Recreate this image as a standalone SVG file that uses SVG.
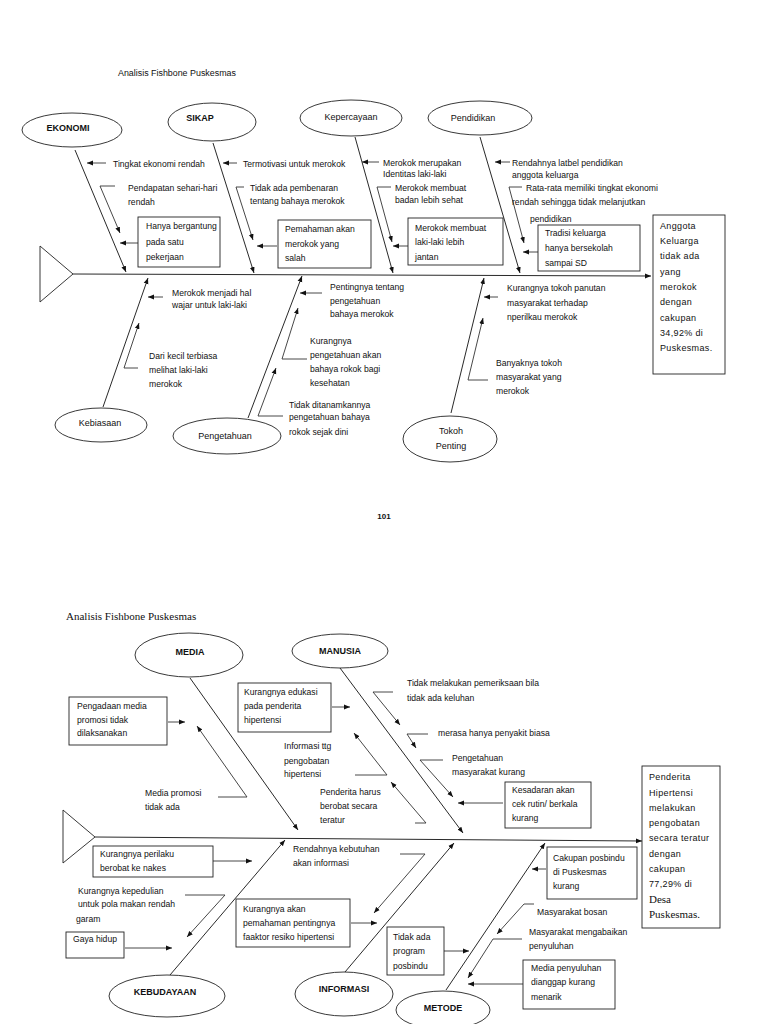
<svg xmlns="http://www.w3.org/2000/svg" width="768" height="1024" viewBox="0 0 768 1024">
<style>
text{font-family:"Liberation Sans",Arial,sans-serif;font-size:8.6px;fill:#111}
.cat{font-weight:bold;font-size:9px;text-anchor:middle}
.lbl{font-size:9px;text-anchor:middle}
.eff{font-size:9px;letter-spacing:0.35px}
.ser{font-family:"Liberation Serif","Times New Roman",serif}
.ell,.box{fill:#fff;stroke:#222;stroke-width:0.9}
.bone{fill:none;stroke:#111;stroke-width:0.9;marker-end:url(#ah)}
.sub{fill:none;stroke:#333;stroke-width:0.9;marker-end:url(#ah)}
.head{fill:#fff;stroke:#222;stroke-width:0.9}
</style>
<defs>
<marker id="ah" viewBox="0 0 10 10" refX="10" refY="5" markerWidth="6" markerHeight="6" markerUnits="userSpaceOnUse" orient="auto">
<path d="M0,1 L10,5 L0,9 z" fill="#111"/>
</marker>
</defs>
<rect width="768" height="1024" fill="#fff"/>

<!-- ===== TOP DIAGRAM ===== -->
<text x="118" y="76" style="font-size:8.9px">Analisis Fishbone Puskesmas</text>

<g id="connectors-top">
<polygon class="head" points="40,246 73,274 40,302"/>
<path class="bone" d="M73,274 L651,276"/>
<path class="bone" d="M75,150 L126,272"/>
<path class="bone" d="M213,143 L254,273"/>
<path class="bone" d="M355,137 L393,273"/>
<path class="bone" d="M480,137 L520,273"/>
<path class="bone" d="M103,407 L148,278"/>
<path class="bone" d="M248,418 L302,276"/>
<path class="bone" d="M451,413 L484,278"/>
<path class="sub" d="M106,163 L87,163"/>
<path class="sub" d="M115,186 L100,186 L120,233"/>
<path class="sub" d="M138,243 L120,243"/>
<path class="sub" d="M237,163 L223,163"/>
<path class="sub" d="M244,187 L236,187 L253,240"/>
<path class="sub" d="M277,246 L257,246"/>
<path class="sub" d="M379,162 L362,162"/>
<path class="sub" d="M391,187 L377,187 L392,242"/>
<path class="sub" d="M408,246 L393,246"/>
<path class="sub" d="M510,162 L495,162"/>
<path class="sub" d="M522,187 L509,187 L524,243"/>
<path class="sub" d="M538,252 L523,252"/>
<path class="sub" d="M163,297 L148,297"/>
<path class="sub" d="M138,368 L124,368 L139,323"/>
<path class="sub" d="M322,293 L300,293"/>
<path class="sub" d="M307,359 L282,359 L298,308"/>
<path class="sub" d="M283,416 L258,416 L276,368"/>
<path class="sub" d="M498,297 L484,297"/>
<path class="sub" d="M488,380 L468,380 L483,318"/>
</g>

<g id="ekonomi">
<ellipse class="ell" cx="72" cy="130" rx="50" ry="17"/>
<text class="cat" x="68" y="131">EKONOMI</text>
<text x="113" y="167">Tingkat ekonomi rendah</text>
<text x="128" y="191">Pendapatan sehari-hari</text>
<text x="128" y="205">rendah</text>
<rect class="box" x="138" y="217" width="82" height="50"/>
<text x="146" y="229">Hanya bergantung</text>
<text x="146" y="245">pada satu</text>
<text x="146" y="260">pekerjaan</text>
</g>

<g id="sikap">
<ellipse class="ell" cx="212" cy="122" rx="44" ry="19"/>
<text class="cat" x="200" y="121">SIKAP</text>
<text x="243" y="167">Termotivasi untuk merokok</text>
<text x="250" y="191">Tidak ada pembenaran</text>
<text x="250" y="204">tentang bahaya merokok</text>
<rect class="box" x="278" y="220" width="93" height="48"/>
<text x="285" y="232">Pemahaman akan</text>
<text x="285" y="247">merokok yang</text>
<text x="285" y="261">salah</text>
</g>

<g id="kepercayaan">
<ellipse class="ell" cx="351" cy="118" rx="51" ry="18"/>
<text class="lbl" x="351" y="120">Kepercayaan</text>
<text x="383" y="166">Merokok merupakan</text>
<text x="383" y="177">Identitas laki-laki</text>
<text x="395" y="191">Merokok membuat</text>
<text x="395" y="203">badan lebih sehat</text>
<rect class="box" x="408" y="218" width="95" height="47"/>
<text x="415" y="231">Merokok membuat</text>
<text x="415" y="245">laki-laki lebih</text>
<text x="415" y="260">jantan</text>
</g>

<g id="pendidikan">
<ellipse class="ell" cx="480" cy="118" rx="52" ry="17"/>
<text class="lbl" x="473" y="121">Pendidikan</text>
<text x="512" y="166">Rendahnya latbel pendidikan</text>
<text x="512" y="178">anggota keluarga</text>
<text x="526" y="191">Rata-rata memiliki tingkat ekonomi</text>
<text x="512" y="205">rendah sehingga tidak melanjutkan</text>
<text x="530" y="222">pendidikan</text>
<rect class="box" x="538" y="225" width="102" height="46"/>
<text x="545" y="236">Tradisi keluarga</text>
<text x="545" y="251">hanya  bersekolah</text>
<text x="545" y="266">sampai SD</text>
</g>

<g id="kebiasaan">
<ellipse class="ell" cx="101" cy="425" rx="46" ry="17"/>
<text class="lbl" x="100" y="426">Kebiasaan</text>
<text x="172" y="296">Merokok menjadi hal</text>
<text x="172" y="308">wajar untuk laki-laki</text>
<text x="149" y="359">Dari kecil terbiasa</text>
<text x="149" y="373">melihat laki-laki</text>
<text x="149" y="387">merokok</text>
</g>

<g id="pengetahuan">
<ellipse class="ell" cx="227" cy="436" rx="54" ry="18"/>
<text class="lbl" x="225" y="439">Pengetahuan</text>
<text x="330" y="290">Pentingnya tentang</text>
<text x="330" y="304">pengetahuan</text>
<text x="330" y="317">bahaya merokok</text>
<text x="310" y="344">Kurangnya</text>
<text x="310" y="358">pengetahuan akan</text>
<text x="310" y="372">bahaya rokok bagi</text>
<text x="310" y="386">kesehatan</text>
<text x="289" y="408">Tidak ditanamkannya</text>
<text x="289" y="420">pengetahuan bahaya</text>
<text x="289" y="435">rokok sejak dini</text>
</g>

<g id="tokoh-penting">
<ellipse class="ell" cx="450" cy="439" rx="47" ry="23"/>
<text class="lbl" x="451" y="434">Tokoh</text>
<text class="lbl" x="451" y="449">Penting</text>
<text x="507" y="291">Kurangnya tokoh panutan</text>
<text x="507" y="306">masyarakat terhadap</text>
<text x="507" y="320">nperilkau merokok</text>
<text x="496" y="366">Banyaknya tokoh</text>
<text x="496" y="380">masyarakat yang</text>
<text x="496" y="394">merokok</text>
</g>

<g id="effect-top">
<rect class="box" x="653" y="215" width="72" height="159"/>
<text class="eff" x="660" y="229">Anggota</text>
<text class="eff" x="660" y="244">Keluarga</text>
<text class="eff" x="660" y="259">tidak ada</text>
<text class="eff" x="660" y="275">yang</text>
<text class="eff" x="660" y="290">merokok</text>
<text class="eff" x="660" y="305">dengan</text>
<text class="eff" x="660" y="321">cakupan</text>
<text class="eff" x="660" y="336">34,92% di</text>
<text class="eff" x="660" y="351">Puskesmas.</text>
</g>

<text x="384" y="519" text-anchor="middle" style="font-size:8px;font-weight:bold">101</text>

<!-- ===== BOTTOM DIAGRAM ===== -->
<text class="ser" x="66" y="620" style="font-size:11px">Analisis Fishbone Puskesmas</text>

<g id="connectors-bottom">
<polygon class="head" points="63,810 95,837 63,863"/>
<path class="bone" d="M95,837 L642,841"/>
<path class="bone" d="M190,678 L298,830"/>
<path class="bone" d="M340,668 L463,833"/>
<path class="bone" d="M170,975 L285,840"/>
<path class="bone" d="M345,972 L454,843"/>
<path class="bone" d="M446,990 L545,843"/>
<path class="sub" d="M168,722 L185,722"/>
<path class="sub" d="M218,797 L247,797 L197,726"/>
<path class="sub" d="M332,707 L350,707"/>
<path class="sub" d="M355,775 L387,775 L354,733"/>
<path class="sub" d="M415,823 L426,823 L391,782"/>
<path class="sub" d="M393,692 L373,692 L400,725"/>
<path class="sub" d="M428,734 L407,734 L416,748"/>
<path class="sub" d="M443,760 L420,760 L453,797"/>
<path class="sub" d="M503,803 L458,803"/>
<path class="sub" d="M213,861 L252,861"/>
<path class="sub" d="M185,895 L225,895 L187,937"/>
<path class="sub" d="M125,948 L172,948"/>
<path class="sub" d="M400,854 L425,854 L374,913"/>
<path class="sub" d="M351,923 L377,923"/>
<path class="sub" d="M444,951 L469,951"/>
<path class="sub" d="M546,869 L532,869"/>
<path class="sub" d="M534,904 L524,904 L497,934"/>
<path class="sub" d="M522,939 L493,939 L468,978"/>
<path class="sub" d="M523,984 L468,984"/>
</g>

<g id="media">
<ellipse class="ell" cx="189" cy="655" rx="54" ry="22"/>
<text class="cat" x="190" y="655">MEDIA</text>
<rect class="box" x="69" y="697" width="98" height="48"/>
<text x="77" y="709">Pengadaan media</text>
<text x="77" y="723">promosi tidak</text>
<text x="77" y="736">dilaksanakan</text>
<text x="145" y="796">Media promosi</text>
<text x="145" y="810">tidak ada</text>
</g>

<g id="manusia">
<ellipse class="ell" cx="340" cy="651" rx="48" ry="17"/>
<text class="cat" x="340" y="654">MANUSIA</text>
<rect class="box" x="238" y="683" width="93" height="49"/>
<text x="244" y="695">Kurangnya edukasi</text>
<text x="244" y="709">pada penderita</text>
<text x="244" y="723">hipertensi</text>
<text x="284" y="749">Informasi ttg</text>
<text x="284" y="764">pengobatan</text>
<text x="284" y="777">hipertensi</text>
<text x="320" y="795">Penderita harus</text>
<text x="320" y="809">berobat secara</text>
<text x="320" y="823">teratur</text>
<text x="407" y="686">Tidak melakukan pemeriksaan bila</text>
<text x="407" y="701">tidak ada keluhan</text>
<text x="438" y="736">merasa hanya penyakit biasa</text>
<text x="452" y="761">Pengetahuan</text>
<text x="452" y="775">masyarakat  kurang</text>
<rect class="box" x="505" y="782" width="86" height="46"/>
<text x="512" y="793">Kesadaran akan</text>
<text x="512" y="807">cek rutin/ berkala</text>
<text x="512" y="821">kurang</text>
</g>

<g id="kebudayaan">
<ellipse class="ell" cx="167" cy="996" rx="58" ry="21"/>
<text class="cat" x="165" y="995">KEBUDAYAAN</text>
<rect class="box" x="93" y="846" width="120" height="31"/>
<text x="100" y="857">Kurangnya perilaku</text>
<text x="100" y="871">berobat ke nakes</text>
<text x="78" y="894">Kurangnya kepedulian</text>
<text x="78" y="907">untuk pola makan rendah</text>
<text x="76" y="922">garam</text>
<rect class="box" x="66" y="932" width="58" height="26"/>
<text x="73" y="942">Gaya hidup</text>
</g>

<g id="informasi">
<ellipse class="ell" cx="344" cy="994" rx="49" ry="22"/>
<text class="cat" x="344" y="992">INFORMASI</text>
<text x="293" y="852">Rendahnya kebutuhan</text>
<text x="293" y="866">akan informasi</text>
<rect class="box" x="236" y="899" width="114" height="48"/>
<text x="243" y="912">Kurangnya akan</text>
<text x="243" y="926">pemahaman pentingnya</text>
<text x="243" y="940">faaktor resiko hipertensi</text>
</g>

<g id="metode">
<ellipse class="ell" cx="443" cy="1010" rx="47" ry="19"/>
<text class="cat" x="443" y="1011">METODE</text>
<rect class="box" x="387" y="927" width="57" height="48"/>
<text x="393" y="940">Tidak ada</text>
<text x="393" y="954">program</text>
<text x="393" y="969">posbindu</text>
<rect class="box" x="547" y="847" width="90" height="52"/>
<text x="553" y="861">Cakupan posbindu</text>
<text x="553" y="875">di Puskesmas</text>
<text x="553" y="889">kurang</text>
<text x="537" y="915">Masyarakat bosan</text>
<text x="529" y="935">Masyarakat mengabaikan</text>
<text x="529" y="949">penyuluhan</text>
<rect class="box" x="523" y="960" width="92" height="49"/>
<text x="531" y="971">Media penyuluhan</text>
<text x="531" y="985">dianggap kurang</text>
<text x="531" y="1000">menarik</text>
</g>

<g id="effect-bottom">
<rect class="box" x="642" y="766" width="78" height="162"/>
<text class="eff" x="649" y="780">Penderita</text>
<text class="eff" x="649" y="796">Hipertensi</text>
<text class="eff" x="649" y="811">melakukan</text>
<text class="eff" x="649" y="826">pengobatan</text>
<text class="eff" x="649" y="841">secara teratur</text>
<text class="eff" x="649" y="857">dengan</text>
<text class="eff" x="649" y="872">cakupan</text>
<text class="eff" x="649" y="887">77,29% di</text>
<text class="ser" x="649" y="903" style="font-size:11px">Desa</text>
<text class="ser" x="649" y="918" style="font-size:11px">Puskesmas.</text>
</g>
</svg>
